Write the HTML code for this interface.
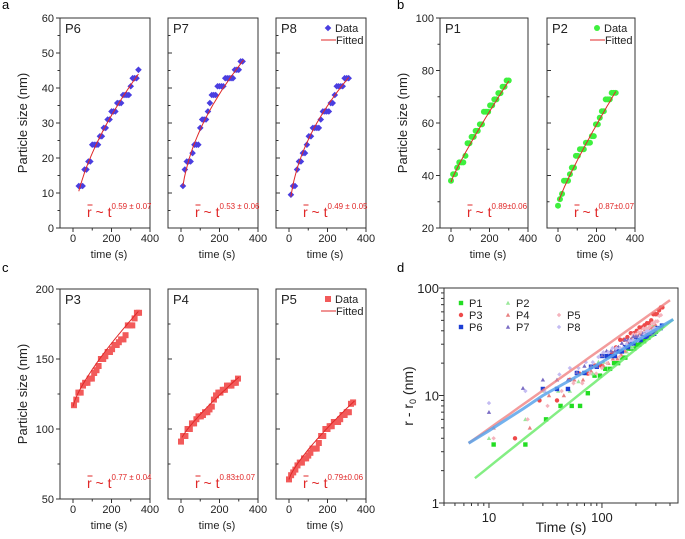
<!DOCTYPE html>
<html><head><meta charset="utf-8">
<style>
html,body{margin:0;padding:0;background:#fff;}
svg{display:block;font-family:"Liberation Sans",Arial,sans-serif;}
</style></head>
<body>
<svg id="fig" width="685" height="539" viewBox="0 0 685 539" xmlns="http://www.w3.org/2000/svg">
<text x="2" y="9" font-size="13">a</text>
<text x="397" y="9" font-size="13">b</text>
<text x="2" y="272" font-size="13">c</text>
<text x="397" y="272" font-size="13">d</text>
</svg>
<script>
// ---------- data ----------
const p6T=[30,40,50,60,70,80,90,100,110,120,130,140,150,160,170,180,190,200,210,220,230,240,250,260,270,280,290,300,310,320,330,340];
const p6R=[12,12,12,16.7,16.7,19,19,23.8,23.8,23.8,23.8,26.2,26.2,28.6,28.6,31,31,33.3,33.3,33.3,35.7,35.7,35.7,38,38,38,38,40.5,42.8,42.8,42.8,45.2];
const p7T=[10,20,30,40,50,60,70,80,90,100,110,120,130,140,150,160,170,180,190,200,210,220,230,240,250,260,270,280,290,300,310,320];
const p7R=[12,16.7,19,19,19,21.4,23.8,23.8,23.8,28.6,31,31,31,33.3,35.7,38,38,38,40.5,40.5,40.5,40.5,42.8,42.8,42.8,42.8,42.8,45.2,45.2,45.2,47.6,47.6];
const p8T=[10,21,31,42,52,62,72,83,93,103,114,124,134,145,155,165,176,186,196,207,217,227,238,248,258,269,279,289,300,310];
const p8R=[9.5,12,12,16.7,19,19,21.4,21.4,23.8,26.2,26.2,28.6,28.6,28.6,28.6,31,33.3,33.3,33.3,33.3,35.7,35.7,38,40.5,40.5,40.5,40.5,42.8,42.8,42.8];
const p1T=[0,11,21,32,43,54,64,75,86,96,107,118,128,139,150,161,171,182,193,203,214,225,236,246,257,268,278,289,300];
const p1R=[38,40.5,40.5,43,45,45,45,47.5,52.3,52.3,54.7,54.7,57,57,59.5,59.5,64.3,64.3,64.3,66.7,66.7,69,69,71.4,71.4,73.8,73.8,76.2,76.2];
const p2T=[0,10,21,31,41,52,62,72,83,93,103,114,124,134,145,155,166,176,186,197,207,217,228,238,248,259,269,279,290,300];
const p2R=[28.5,31,33,38,38,38,40.5,43,43,47.5,47.5,50,50,50,52.5,52.5,52.5,55,55,59.5,59.5,62,64.5,64.5,69,69,69,71.5,71.5,71.5];
const p3T=[5,17,28,40,52,63,75,87,98,110,122,133,145,157,168,180,192,203,215,227,238,250,262,273,285,297,308,320,332,343];
const p3R=[117,121,126,126,131,133,133,136,136,140,142,145,150,150,152,155,155,157,160,160,162,164,164,167,174,174,174,179,183,183];
const p4T=[0,11,23,34,46,57,68,80,91,103,114,125,137,148,160,171,182,194,205,217,228,239,251,262,274,285,296];
const p4R=[91,95,95,100,100,104,104,107,109,109,110,112,112,114,116,121,124,126,126,128,128,131,131,131,133,133,136];
const p5T=[0,11,22,33,44,56,67,78,89,100,111,122,133,144,155,167,178,189,200,211,222,233,244,255,266,278,289,300,311,322,333];
const p5R=[64,67,69,71,74,76,76,79,79,81,83,86,86,86,90,95,95,100,100,102,102,105,105,105,107,110,110,112,112,118,119];
// fit: [tStart, rStart, tEnd, rEnd]
const fitEnds={P6:[30,10.5,340,44],P7:[10,12,325,48],P8:[10,9,310,43],P1:[0,37.5,300,76],P2:[5,30.5,300,72],P3:[0,116,340,184],P4:[5,94,300,137],P5:[0,64,340,120]};
const exps={P6:'0.59 ± 0.07',P7:'0.53 ± 0.06',P8:'0.49 ± 0.05',P1:'0.89±0.06',P2:'0.87±0.07',P3:'0.77 ± 0.04',P4:'0.83±0.07',P5:'0.79±0.06'};
const expVals={P6:0.59,P7:0.53,P8:0.49,P1:0.89,P2:0.87,P3:0.77,P4:0.83,P5:0.79};
// panel d
const dR0={P1:37,P2:27,P3:117,P4:90,P5:63,P6:0.5,P7:5,P8:1};
const redLine=[6.6,3.6,400,77];
const greenLine=[7.5,1.7,427,51];
const blueLineT=[6.6,10,20,30,50,100,200,427];
const blueLineR=[3.6,4.7,7.5,10,13.5,20.5,32,51];
const xTicksLin=[0,200,400];
const dXTicks=[10,100];
const dYTicks=[1,10,100];

const NS='http://www.w3.org/2000/svg';
const svg=document.getElementById('fig');
function mk(tag,attrs,parent){const e=document.createElementNS(NS,tag);for(const k in attrs)e.setAttribute(k,attrs[k]);(parent||svg).appendChild(e);return e;}

function marker(g,shape,x,y,color,s){
  let e;
  if(shape==='diamond'){e=mk('polygon',{points:`${x},${y-s} ${x+s},${y} ${x},${y+s} ${x-s},${y}`,fill:color},g);}
  else if(shape==='circle'){e=mk('circle',{cx:x,cy:y,r:s,fill:color},g);}
  else if(shape==='square'){e=mk('rect',{x:x-s,y:y-s,width:2*s,height:2*s,fill:color},g);}
  else {e=mk('polygon',{points:`${x},${y-s} ${x+s},${y+s*0.8} ${x-s},${y+s*0.8}`,fill:color},g);}
  return e;
}

function panel(o){
  const g=mk('g',{});
  
  
  const L=o.L,R=o.L+o.W,T=o.T,B=o.B;
  const xmin=-400*o.zoff/(o.W-o.zoff);
  const sx=v=>L+(v-xmin)/(400-xmin)*(R-L);
  const sy=v=>B-(v-o.ymin)/(o.ymax-o.ymin)*(B-T);
  const fr=mk('rect',{x:L,y:T,width:R-L,height:B-T,fill:'none',stroke:'#333','stroke-width':1},g);
  
  
  const dir=o.first?-1:1;
  for(let v=o.ymin;v<=o.ymax+1e-9;v+=o.ystep/2){
    const major=Math.abs(((v-o.ymin)/o.ystep)%1)<1e-6;
    const len=major?4:2.5;
    if(v>o.ymin&&v<o.ymax) mk('line',{x1:L,x2:L+dir*len,y1:sy(v),y2:sy(v),stroke:'#333'},g);
    else if(o.first) mk('line',{x1:L,x2:L-len,y1:sy(v),y2:sy(v),stroke:'#333'},g);
    if(o.first&&major){const t=mk('text',{x:L-6,y:sy(v)+4,'font-size':11,'text-anchor':'end',fill:'#222'},g);t.textContent=v;
      }
  }
  for(let v=0;v<=400;v+=100){
    const major=v%200===0;
    mk('line',{x1:sx(v),x2:sx(v),y1:B,y2:B+(major?4:2.5),stroke:'#333'},g);
  }
  xTicksLin.forEach(v=>{const t=mk('text',{x:sx(v),y:B+14,'font-size':11,'text-anchor':'middle',fill:'#222'},g);t.textContent=v;
    });
  const xt=mk('text',{x:(L+R)/2+4,y:B+30,'font-size':11,'text-anchor':'middle',fill:'#222'},g);xt.textContent='time (s)';
  
  const pl=mk('text',{x:L+5,y:T+15,'font-size':13,fill:'#222'},g);pl.textContent=o.name;
  
  o.t.forEach((tv,i)=>{const m=marker(g,o.shape,sx(tv),sy(o.r[i]),o.color,o.ms);
    });
  const f=fitEnds[o.name],p=expVals[o.name];
  const A=(f[3]-f[1])/(Math.pow(f[2],p)-Math.pow(f[0],p)),r0=f[1]-A*Math.pow(f[0],p);
  let d='';for(let k=0;k<=40;k++){const tv=f[0]+(f[2]-f[0])*k/40;d+=(k?'L':'M')+sx(tv).toFixed(1)+','+sy(r0+A*Math.pow(tv,p)).toFixed(1);}
  const fl=mk('path',{d:d,fill:'none',stroke:'#e02828','stroke-width':1},g);
  
  const ft=mk('text',{x:L+27,y:B-11,'font-size':14,fill:'#e02828'},g);
  ft.innerHTML='r ~ t<tspan font-size="8" dy="-8">'+exps[o.name]+'</tspan>';
  
  mk('line',{x1:L+27.5,x2:L+32.5,y1:B-23,y2:B-23,stroke:'#e02828','stroke-width':1},g);
  if(o.legend){
    const lg=mk('g',{},g);
    marker(lg,o.shape,R-38,T+10,o.color,o.ms);
    const a=mk('text',{x:R-31,y:T+14,'font-size':11,fill:'#222'},lg);a.textContent='Data';
    mk('line',{x1:R-45,x2:R-30,y1:T+22,y2:T+22,stroke:'#e02828'},lg);
    const b=mk('text',{x:R-30,y:T+26,'font-size':11,fill:'#222'},lg);b.textContent='Fitted';
  }
}
function ytitle(x,y,txt){const t=mk('text',{x:x,y:y,'font-size':13,'text-anchor':'middle',fill:'#222',transform:`rotate(-90 ${x} ${y})`});t.textContent=txt;
  }

const blue='#4a3ee0',green='#3ef03e',red='#f25a5a';
const aCfg={T:18,B:228,ymin:0,ymax:60,ystep:10,W:90,zoff:13,shape:'diamond',color:blue,ms:3.3};
panel(Object.assign({},aCfg,{name:'P6',L:60,first:true,t:p6T,r:p6R}));
panel(Object.assign({},aCfg,{name:'P7',L:168,t:p7T,r:p7R}));
panel(Object.assign({},aCfg,{name:'P8',L:276,t:p8T,r:p8R,legend:true}));
ytitle(27,123,'Particle size (nm)');
const bCfg={T:18,B:228,ymin:20,ymax:100,ystep:20,W:88,zoff:11,shape:'circle',color:green,ms:3};
panel(Object.assign({},bCfg,{name:'P1',L:440,first:true,t:p1T,r:p1R}));
panel(Object.assign({},bCfg,{name:'P2',L:547,t:p2T,r:p2R,legend:true}));
ytitle(407,123,'Particle size (nm)');
const cCfg={T:289,B:499,ymin:50,ymax:200,ystep:50,W:90,zoff:13,shape:'square',color:red,ms:3};
panel(Object.assign({},cCfg,{name:'P3',L:60,first:true,t:p3T,r:p3R}));
panel(Object.assign({},cCfg,{name:'P4',L:168,t:p4T,r:p4R}));
panel(Object.assign({},cCfg,{name:'P5',L:276,t:p5T,r:p5R,legend:true}));
ytitle(27,394,'Particle size (nm)');

(function(){
  const g=mk('g',{});
  const L=444,R=678,T=288,B=503,lx0=0.602,lx1=2.673;
  const sx=v=>L+(Math.log10(v)-lx0)/(lx1-lx0)*(R-L);
  const sy=v=>B-Math.log10(v)/2*(B-T);
  mk('rect',{x:L,y:T,width:R-L,height:B-T,fill:'none',stroke:'#333'},g);
  for(let e=0;e<3;e++)for(let m=1;m<10;m++){const v=m*Math.pow(10,e);const lv=Math.log10(v);
    if(lv>=lx0&&lv<=lx1) mk('line',{x1:sx(v),x2:sx(v),y1:B,y2:B+(m===1?5:3),stroke:'#333'},g);
    if(lv<=2&&e<2) mk('line',{x1:L,x2:L-(m===1?5:3),y1:sy(v),y2:sy(v),stroke:'#333'},g);}
  mk('line',{x1:L,x2:L-5,y1:sy(100),y2:sy(100),stroke:'#333'},g);
  dXTicks.forEach(v=>{const t=mk('text',{x:sx(v),y:B+19,'font-size':13,'text-anchor':'middle',fill:'#222'},g);t.textContent=v;
    });
  dYTicks.forEach(v=>{const t=mk('text',{x:L-5,y:sy(v)+5,'font-size':13,'text-anchor':'end',fill:'#222'},g);t.textContent=v;
    });
  const xt=mk('text',{x:(L+R)/2,y:532,'font-size':14,'text-anchor':'middle',fill:'#222'},g);xt.textContent='Time (s)';
  
  const yt=mk('text',{x:413,y:396,'font-size':14,'text-anchor':'middle',fill:'#222',transform:'rotate(-90 413 396)'},g);
  yt.innerHTML='r - r<tspan font-size="9" dy="3">0</tspan><tspan dy="-3"> (nm)</tspan>';
  
  function pl(ends,color,name){let d='';for(let k=0;k<=20;k++){const lt=Math.log10(ends[0])+(Math.log10(ends[2])-Math.log10(ends[0]))*k/20;
    const lr=Math.log10(ends[1])+(Math.log10(ends[3])-Math.log10(ends[1]))*k/20;d+=(k?'L':'M')+sx(Math.pow(10,lt)).toFixed(1)+','+sy(Math.pow(10,lr)).toFixed(1);}
    const p=mk('path',{d:d,fill:'none',stroke:color,'stroke-width':2.5},g);}
  const series=[
    ['P1',p1T,p1R,'square','#22dd22'],['P2',p2T,p2R,'tri','#9ae89a'],
    ['P3',p3T,p3R,'circle','#ee4a4a'],['P4',p4T,p4R,'tri','#e88080'],['P5',p5T,p5R,'diamond','#f5b3bd'],
    ['P6',p6T,p6R,'square','#1c3ed4'],['P7',p7T,p7R,'tri','#7a6cc4'],['P8',p8T,p8R,'diamond','#c4bcf2']];
  series.forEach(s=>{s[1].forEach((tv,i)=>{const v=s[2][i]-dR0[s[0]];if(tv<8||v<=1)return;
    const m=marker(g,s[3],sx(tv),sy(v),s[4],2.2);});});
  pl(greenLine,'rgba(110,235,110,0.85)','fit-line-green');
  pl(redLine,'rgba(240,130,130,0.8)','fit-line-red');
  let d='';blueLineT.forEach((tv,i)=>{d+=(i?'L':'M')+sx(tv).toFixed(1)+','+sy(blueLineR[i]).toFixed(1);});
  const bl=mk('path',{d:d,fill:'none',stroke:'rgba(90,165,235,0.85)','stroke-width':3,'stroke-linejoin':'round'},g);
  
  const lg=mk('g',{},g);
  const cols=[461,508,559],rows=[303,315,327];
  const pos=[[0,0],[1,0],[0,1],[1,1],[2,1],[0,2],[1,2],[2,2]];
  series.forEach((s,i)=>{const x=cols[pos[i][0]],y=rows[pos[i][1]];marker(lg,s[3],x,y,s[4],2.2);
    const t=mk('text',{x:x+8,y:y+4,'font-size':11,fill:'#222'},lg);t.textContent=s[0];});
})();
</script>
</body></html>
